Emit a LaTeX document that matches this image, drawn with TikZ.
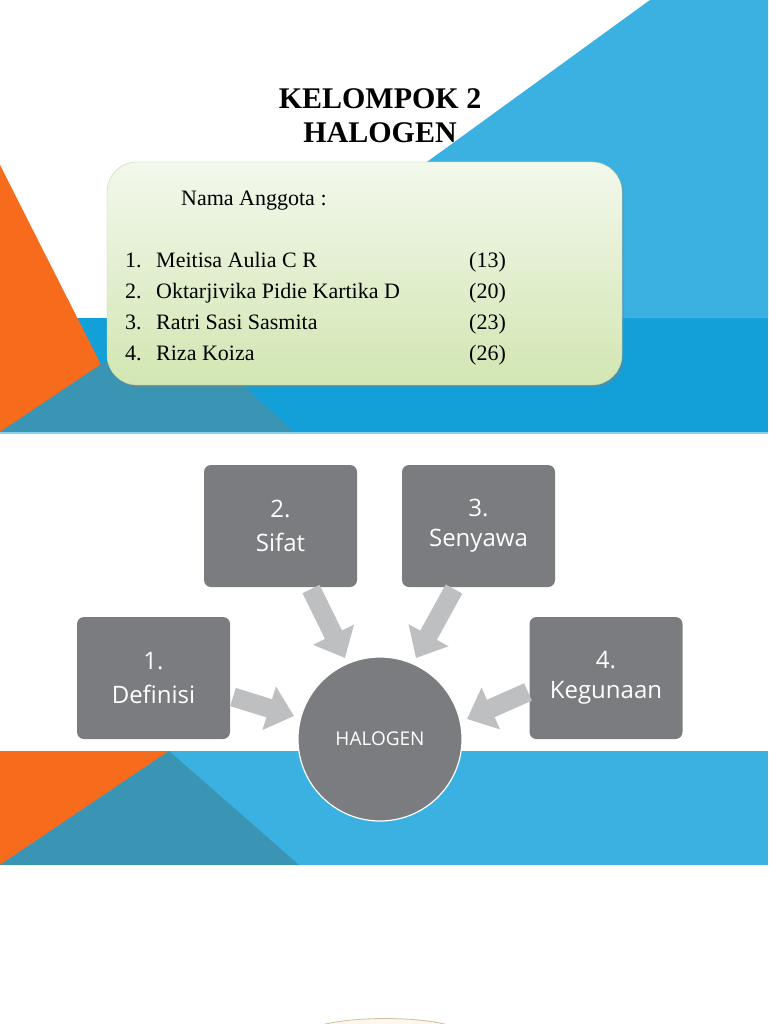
\documentclass[tikz,border=0pt]{standalone}
\usepackage{fontspec}
\setmainfont{Liberation Serif}
\newfontfamily\boxfont{Open Sans}
\usetikzlibrary{arrows.meta,shadows}
\definecolor{lblue}{HTML}{3AB1E0}
\definecolor{dblue}{HTML}{13A0D8}
\definecolor{orng}{HTML}{F76B1C}
\definecolor{teal}{HTML}{3A94B4}
\definecolor{boxgray}{HTML}{7B7C80}
\definecolor{arrgray}{HTML}{BDBFC1}
\definecolor{gtop}{HTML}{F2F8EC}
\definecolor{gbot}{HTML}{D2E6B2}
\definecolor{gline}{HTML}{C3D7AA}
\definecolor{cream}{HTML}{FDF6EC}
\definecolor{tan}{HTML}{CDBEA5}
\tikzset{
  gbox/.style={draw=none,fill=boxgray,rounded corners=7pt,minimum width=153pt,minimum height=122pt,text=white,font=\boxfont\fontsize{24}{30}\selectfont,align=center,inner sep=0pt},
  fatarrow/.style={arrgray,line width=19pt,-{Triangle[length=26pt,width=44pt]},shorten >=0pt},
  member/.style={anchor=base west,font=\fontsize{22}{26}\selectfont,inner sep=0pt}
}
\begin{document}
\begin{tikzpicture}[x=1pt,y=-1pt]
\useasboundingbox (0,0) rectangle (768,1024);
\fill[white] (0,0) rectangle (768,1024);
% slide 1 background
\fill[dblue] (0,318) rectangle (768,432);
\fill[lblue] (650,0) -- (768,0) -- (768,318) -- (212,318) -- cycle;
\fill[orng] (0,165) -- (135,432) -- (0,432) -- cycle;
\fill[teal] (0,432) -- (170,318) -- (294,432) -- cycle;
\fill[lblue!60] (0,432) rectangle (768,434);
% title
\node[font=\bfseries\fontsize{30}{34}\selectfont,align=center] (title) at (380,116) {KELOMPOK 2\\HALOGEN};
% green box
\shade[top color=gtop,bottom color=gbot,rounded corners=30pt,draw=gline,drop shadow={opacity=0.35,shadow xshift=2pt,shadow yshift=-3pt}] (107,162) rectangle (622,385);
\node[member] (nama) at (181,206) {Nama Anggota :};
\foreach \i/\n/\v/\y in {1/Meitisa Aulia C R/13/267,2/Oktarjivika Pidie Kartika D/20/298,3/Ratri Sasi Sasmita/23/329,4/Riza Koiza/26/360}{
  \node[member] (num\i) at (125,\y) {\i.};
  \node[member] (name\i) at (156,\y) {\n};
  \node[member] (val\i) at (469,\y) {(\v)};
}
% slide 2 background
\fill[lblue] (0,751) rectangle (768,865);
\fill[orng] (0,751) -- (169,751) -- (0,865) -- cycle;
\fill[teal] (0,865) -- (169,751) -- (299,865) -- cycle;
% boxes
\node[gbox] (b2) at (280.5,526) {2.\\[4pt]Sifat};
\node[gbox] (b3) at (478.5,526) {3.\\Senyawa};
\node[gbox] (b1) at (153.5,678) {1.\\[4pt]Definisi};
\node[gbox] (b4) at (606,678) {4.\\Kegunaan};
% arrows
\coordinate (a1s) at (233,697); \coordinate (a1e) at (294,716);
\coordinate (a2s) at (311,589); \coordinate (a2e) at (345,658);
\coordinate (a3s) at (454,589); \coordinate (a3e) at (416,658);
\coordinate (a4s) at (528,692); \coordinate (a4e) at (467,719);
\draw[fatarrow] (a1s) -- (a1e);
\draw[fatarrow] (a2s) -- (a2e);
\draw[fatarrow] (a3s) -- (a3e);
\draw[fatarrow] (a4s) -- (a4e);
% circle
\node[circle,fill=boxgray,draw=white,line width=1.2pt,minimum size=164pt,text=white,font=\boxfont\fontsize{19}{22}\selectfont,inner sep=0pt] (hal) at (380,739) {HALOGEN};
% bottom arc
\fill[cream,draw=tan,line width=0.8pt] (318,1026) .. controls (350,1016) and (420,1016) .. (452,1026) -- cycle;
\end{tikzpicture}
\end{document}
